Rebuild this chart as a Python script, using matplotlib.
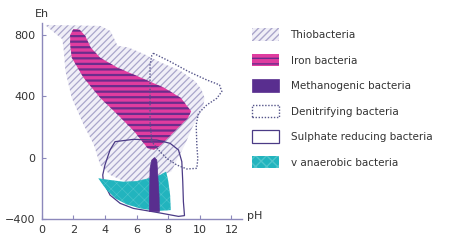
import matplotlib
matplotlib.use("Agg")
import matplotlib.pyplot as plt
from matplotlib.patches import Polygon, Patch

# outlines of the zones, (pH, Eh in mV)
thio_ph = [0.2, 3.7, 4.35, 4.8, 5.5, 6.5, 7.55, 8.8, 9.7, 10.1, 10.3, 10.2, 9.5, 9.05,
           8.6, 8.2, 6.3, 5.4, 4.35, 3.7, 3.3, 2.65, 1.9, 1.5, 1.4, 1.3]
thio_eh = [865, 858, 825, 728, 717, 673, 619, 564, 498, 444, 389, 324, 192, 83,
           -4, -92, -153, -162, -114, -48, 83, 214, 389, 564, 695, 772]

iron_ph = [1.8, 2.0, 2.4, 2.75, 3.1, 3.7, 4.8, 6.3, 7.75, 8.8, 9.45, 9.25, 8.4, 7.55,
           7.1, 6.7, 5.85, 4.8, 3.7, 2.65, 1.9, 1.8]
iron_eh = [800, 837, 833, 794, 717, 651, 586, 520, 455, 389, 302, 258, 171, 83,
           50, 61, 171, 280, 389, 520, 651, 739]

metha_ph = [6.81, 6.85, 6.96, 7.13, 7.28, 7.34, 7.42, 7.44]
metha_eh = [-352, -70, -16, 0, -16, -113, -244, -352]

denit_ph = [7.06, 8.12, 9.28, 10.44, 11.24, 11.39, 11.08, 10.44, 9.91, 9.77, 9.81, 9.87,
            9.81, 9.18, 8.54, 7.91, 7.38, 6.96, 6.85, 6.85, 6.85, 6.96]
denit_eh = [680, 626, 561, 506, 474, 431, 387, 343, 289, 213, 82, -5,
            -70, -74, -48, -5, 50, 104, 235, 452, 604, 665]

sulph_ph = [4.64, 5.8, 7.28, 8.12, 8.65, 8.86, 8.92, 8.96, 9.03, 8.65, 7.28, 5.8,
            4.96, 4.32, 3.9, 3.86, 4.0, 4.32]
sulph_eh = [104, 119, 115, 93, 50, -26, -157, -287, -378, -383, -357, -331,
            -298, -244, -157, -113, -48, 50]

anaer_ph = [3.58, 4.32, 5.16, 6.01, 6.75, 7.49, 7.87, 8.01, 8.12, 8.16, 7.28, 6.22,
            5.38, 4.64, 4.11, 3.8]
anaer_eh = [-135, -146, -157, -153, -135, -113, -91, -157, -244, -342, -348, -331,
            -305, -265, -211, -168]

labels = ["Thiobacteria", "Iron bacteria", "Methanogenic bacteria",
          "Denitrifying bacteria", "Sulphate reducing bacteria", "v anaerobic bacteria"]
xticks = [0, 2, 4, 6, 8, 10, 12]
yticks = [-400, 0, 400, 800]

axis_col = "#8c88bb"
dark = "#4b3b86"

fig = plt.figure(figsize=(4.74, 2.44), dpi=100)
ax = fig.add_axes([0.088, 0.1025, 0.422, 0.805])


def zone(xs, ys, hlw=1.0, **kw):
    with plt.rc_context({"hatch.linewidth": hlw}):
        p = Polygon(list(zip(xs, ys)), closed=True, **kw)
    ax.add_patch(p)
    return p


def handle(hlw=1.0, **kw):
    with plt.rc_context({"hatch.linewidth": hlw}):
        return Patch(**kw)


thio_kw = dict(facecolor="#f0eff7", edgecolor="#aaa6cb", hatch="/////", linewidth=0)
iron_kw = dict(facecolor="#e03c9f", edgecolor="#6b2d8c", hatch="---", linewidth=0)
metha_kw = dict(facecolor="#592e8f", edgecolor="#592e8f", linewidth=0.5)
denit_kw = dict(facecolor="none", edgecolor="#55558a", linestyle=(0, (1, 1.2)), linewidth=1.0)
sulph_kw = dict(facecolor="none", edgecolor=dark, linewidth=0.9)
anaer_kw = dict(facecolor="#22b4be", edgecolor="#4fc5cc", hatch="xxx", linewidth=0)

zone(thio_ph, thio_eh, hlw=0.9, zorder=1, **thio_kw)
zone(iron_ph, iron_eh, hlw=1.6, zorder=2, **iron_kw)
zone(sulph_ph, sulph_eh, zorder=3, **sulph_kw)
zone(anaer_ph, anaer_eh, hlw=0.4, zorder=4, **anaer_kw)
zone(metha_ph, metha_eh, zorder=5, **metha_kw)
zone(denit_ph, denit_eh, zorder=6, **denit_kw)

ax.set_xlim(0, 12.65)
ax.set_ylim(-400, 880)
ax.set_xticks(xticks)
ax.set_yticks(yticks)
for s in ["top", "right"]:
    ax.spines[s].set_visible(False)
for s in ["left", "bottom"]:
    ax.spines[s].set_color(axis_col)
    ax.spines[s].set_linewidth(1.0)
ax.tick_params(axis="both", direction="in", length=3, color=axis_col,
               labelsize=8, labelcolor="#333333")
ax.tick_params(axis="x", pad=4)
ax.tick_params(axis="y", pad=4.5)
ax.text(0, 1.044, "Eh", transform=ax.transAxes, ha="center", va="center",
        fontsize=8, color="#333333")
ax.text(1.027, 0.015, "pH", transform=ax.transAxes, ha="left", va="center",
        fontsize=8, color="#333333")

handles = [
    handle(hlw=0.9, **thio_kw),
    handle(hlw=1.6, **iron_kw),
    handle(**metha_kw),
    handle(**denit_kw),
    handle(**sulph_kw),
    handle(hlw=0.4, **anaer_kw),
]
fig.legend(handles, labels, loc="upper left", bbox_to_anchor=(252 / 474, 1 - 28.5 / 244),
           frameon=False, fontsize=7.5, borderpad=0, borderaxespad=0,
           handlelength=2.6, handleheight=1.45, labelspacing=1.26, handletextpad=1.1,
           labelcolor="#333333")

fig.savefig("out.png", dpi=100)
